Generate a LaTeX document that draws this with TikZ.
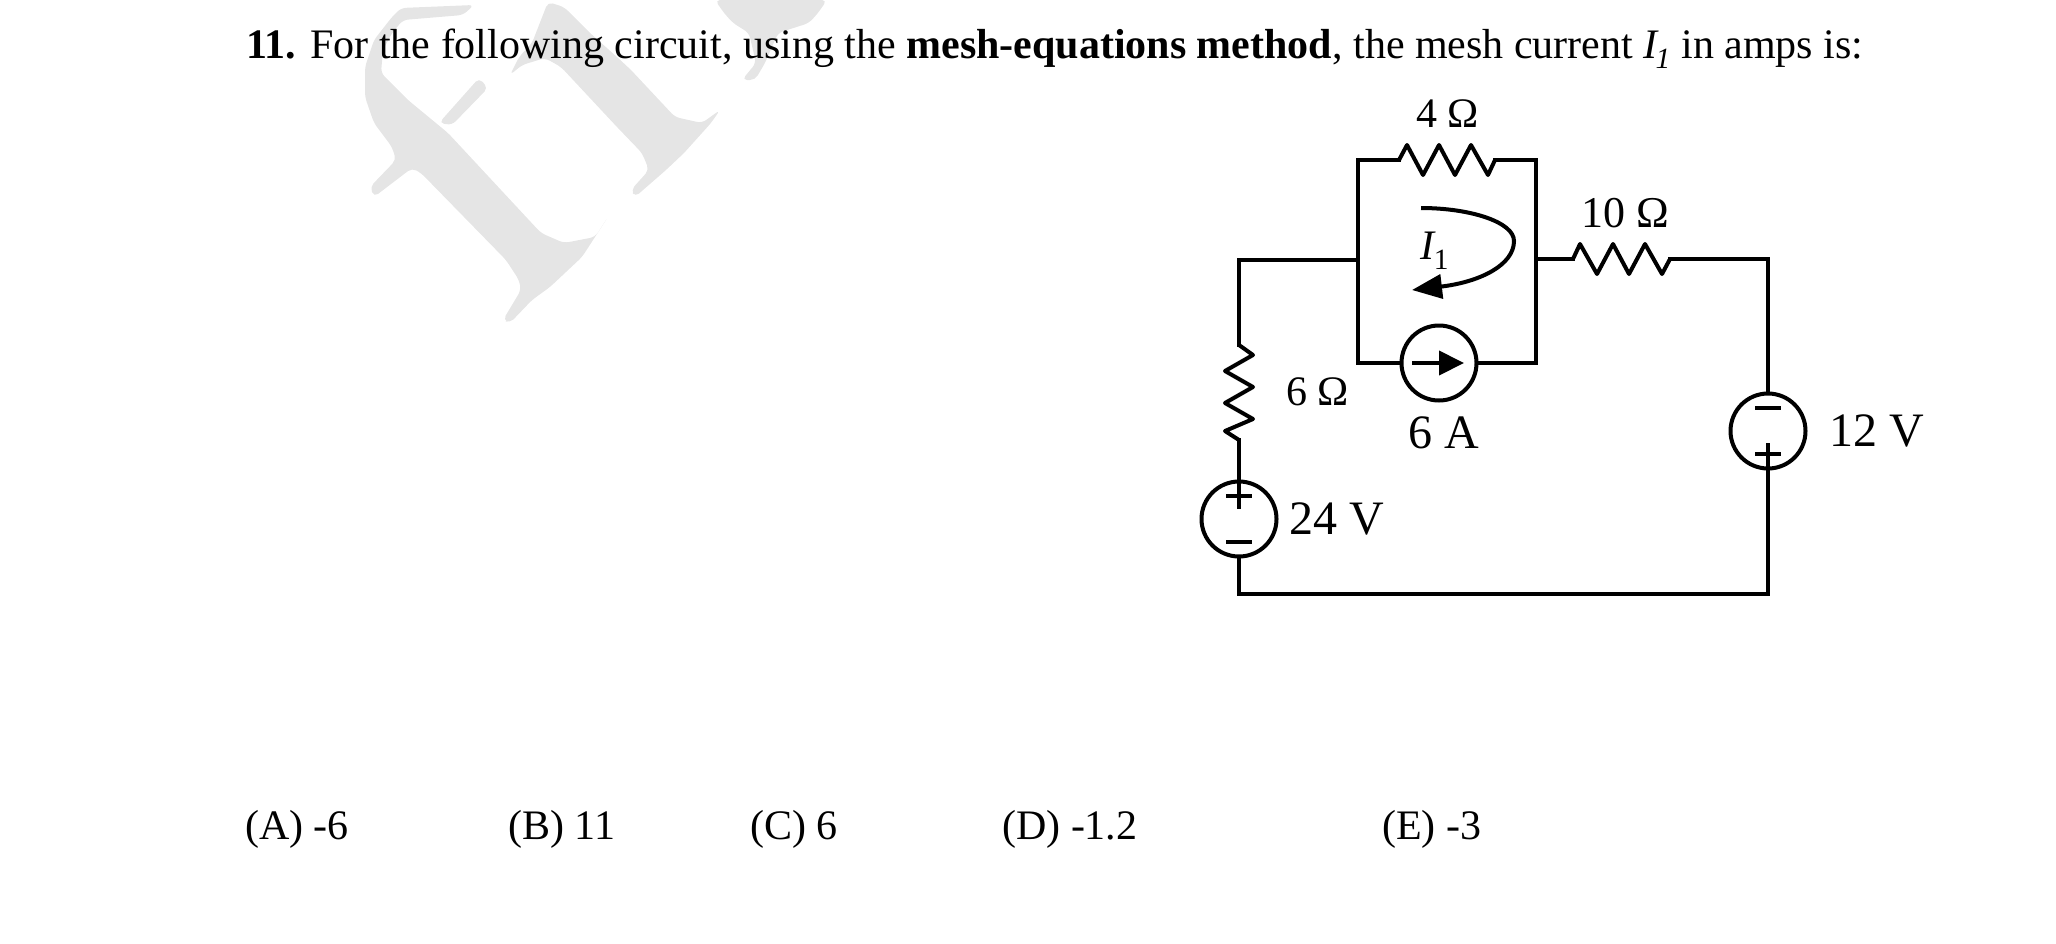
\documentclass[tikz,border=0pt]{standalone}
\usepackage{fontspec}
\setmainfont{Liberation Serif}
\usetikzlibrary{arrows.meta, positioning, shapes}

\begin{document}
\begin{tikzpicture}[x=1pt, y=-1pt,
        wire/.style={line width=4pt, line join=miter, line cap=rect},
        zigzag/.style={line width=4pt, line join=round},
        source/.style={draw, circle, line width=4pt, minimum size=75pt, inner sep=0pt},
        signline/.style={line width=4pt},
        textlabel/.style={anchor=base west, inner sep=0pt},
        smalltext/.style={textlabel, font=\fontsize{42}{50}\selectfont},
        largetext/.style={textlabel, font=\fontsize{48}{56}\selectfont},
        choice/.style={textlabel, font=\fontsize{42}{50}\selectfont},
        logo/.style={draw=none, fill=black!10, rounded corners=5pt}]

        \useasboundingbox (0,0) rectangle (2056,943);

        % Watermark
        \fill [logo] (401,8) -- (474,5) -- (463,15) -- (403,20) -- (392,33) -- (383,50) -- (381,73) -- (408,100) -- (448,133) -- (541,233) -- (564,243) -- (595,237) -- (608,217) -- (582,257) -- (550,287) -- (532,300) -- (510,323) -- (503,320) -- (521,290) -- (519,280) -- (506,260) -- (421,173) -- (412,168) -- (374,197) -- (370,187) -- (396,160) -- (392,147) -- (374,123) -- (365,97) -- (365,67) -- (374,40) -- (392,17) -- cycle;
        \fill [logo] (439,123) -- (479,78) -- (488,88) -- (452,125) -- cycle;
        \fill [logo] (548,2) -- (564,7) -- (590,33) -- (617,57) -- (631,70) -- (675,117) -- (702,123) -- (720,110) -- (711,123) -- (684,153) -- (666,170) -- (635,197) -- (631,190) -- (649,170) -- (642,153) -- (617,127) -- (561,67) -- (545,58) -- (522,65) -- (510,75) -- (519,57) -- (532,43) -- cycle;
        \fill [logo] (715,0) -- (827,0) -- (818,13) -- (809,23) -- (778,33) -- (765,63) -- (755,80) -- (742,80) -- (756,63) -- (749,33) -- (733,23) -- (724,13) -- cycle;

        % Text
        \node [textlabel, font=\fontsize{42}{50}\selectfont] (question) at (246,58) {\textbf{11.} For the following circuit, using the \textbf{mesh-equations method}, the mesh current \textit{I\kern-2pt\textsubscript{1}} in amps is:};
        \node [choice] (optA) at (245,839) {(A) -6};
        \node [choice] (optB) at (508,839) {(B) 11};
        \node [choice] (optC) at (750,839) {(C) 6};
        \node [choice] (optD) at (1002,839) {(D) -1.2};
        \node [choice] (optE) at (1382,839) {(E) -3};

        % Nodes
        \coordinate (tl) at (1358,160);
        \coordinate (tr) at (1536,160);
        \coordinate (bl) at (1358,363);
        \coordinate (br) at (1536,363);
        \coordinate (jl) at (1358,260);
        \coordinate (jr) at (1536,259);
        \coordinate (cl) at (1239,260);
        \coordinate (cr) at (1768,259);
        \coordinate (fl) at (1239,594);
        \coordinate (fr) at (1768,594);
        \coordinate (r4a) at (1399,160);
        \coordinate (r4b) at (1495,160);
        \coordinate (r10a) at (1573,259);
        \coordinate (r10b) at (1670,259);
        \coordinate (r6a) at (1239,345);
        \coordinate (r6b) at (1239,440);
        \node [source] (is) at (1439,363) {};
        \node [source] (vs24) at (1239,519) {};
        \node [source] (vs12) at (1768,431) {};

        % Labels
        \node [smalltext] (l4) at (1416,127) {4 Ω};
        \node [smalltext, font=\fontsize{44}{50}\selectfont] (l10) at (1581,227) {10 Ω};
        \node [smalltext] (l6) at (1286,405) {6 Ω};
        \node [largetext] (l6a) at (1408,448) {6 A};
        \node [largetext] (l24) at (1289,534) {24 V};
        \node [largetext] (l12) at (1829,446) {12 V};
        \node [smalltext] (li) at (1420,259) {\textit{I}\kern-2pt\textsubscript{1}};

        % Wires
        \draw [wire] (r4a) -- (tl) -- (bl) -- (is);
        \draw [wire] (r4b) -- (tr) -- (br) -- (is);
        \draw [wire] (jl) -- (cl) -- (r6a);
        \draw [wire] (jr) -- (r10a);
        \draw [wire] (r10b) -- (cr) -- (vs12.north);
        \draw [wire] (r6b) -- (vs24.north);
        \draw [wire] (vs24.south) -- (fl) -- (fr) -- (vs12.south);

        % Resistors
        \draw [zigzag] (r4a) -- ++(8,-15) -- ++(16,30) -- ++(16,-30) -- ++(16,30) -- ++(16,-30) -- ++(17,30) -- (r4b);
        \draw [zigzag] (r10a) -- ++(7,-15) -- ++(17,30) -- ++(16,-30) -- ++(16,30) -- ++(16,-30) -- ++(17,30) -- (r10b);
        \draw [zigzag] (r6a) -- ++(14,10) -- ++(-28,16) -- ++(28,16) -- ++(-28,16) -- ++(28,16) -- ++(-28,12) -- (r6b);

        % Source marks
        \draw [signline] (vs24.north) -- ++(0,29);
        \draw [signline] ([xshift=-13pt]vs24.center) ++(0,-23) -- ++(26,0);
        \draw [signline] ([xshift=-13pt]vs24.center) ++(0,23) -- ++(26,0);
        \draw [signline] (vs12.south) -- ++(0,-28);
        \draw [signline] ([xshift=-13pt]vs12.center) ++(0,-23) -- ++(26,0);
        \draw [signline] ([xshift=-13pt]vs12.center) ++(0,23) -- ++(26,0);

        % Arrows
        \coordinate (ma) at (1421,208);
        \coordinate (mm) at (1514,241);
        \coordinate (mb) at (1412,290);
        \draw [signline, -{Stealth[length=30pt, width=24pt, inset=0pt]}] (ma) .. controls (1470,208) and (1514,222) .. (mm) .. controls (1514,265) and (1480,282) .. (mb);
        \draw [signline, -{Stealth[length=25pt, width=24pt, inset=0pt]}] ([xshift=-27pt]is.center) -- ([xshift=25pt]is.center);
\end{tikzpicture}
\end{document}
